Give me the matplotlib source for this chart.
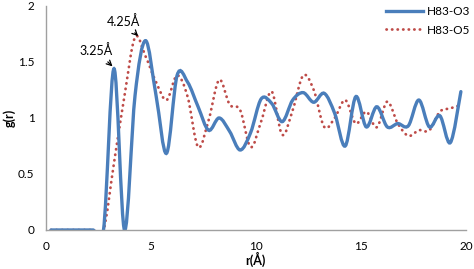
import numpy as np
import matplotlib
matplotlib.use("Agg")
import matplotlib.pyplot as plt
from matplotlib.path import Path
from matplotlib.patches import PathPatch
from matplotlib.lines import Line2D

# r values (Angstrom), sampled every 0.5 starting at 0.25
r = [0.25, 0.75, 1.25, 1.75, 2.25, 2.75, 3.25, 3.75, 4.25, 4.75,
     5.25, 5.75, 6.25, 6.75, 7.25, 7.75, 8.25, 8.75, 9.25, 9.75,
     10.25, 10.75, 11.25, 11.75, 12.25, 12.75, 13.25, 13.75, 14.25, 14.75,
     15.25, 15.75, 16.25, 16.75, 17.25, 17.75, 18.25, 18.75, 19.25, 19.75]

g_o3 = [0, 0, 0, 0, 0, 0, 1.44, 0, 1.2, 1.69,
        1.2, 0.685, 1.38, 1.32, 1.1, 0.89, 1.0, 0.88, 0.714, 0.87,
        1.17, 1.13, 0.967, 1.16, 1.226, 1.14, 1.22, 1.04, 0.75, 1.19,
        0.92, 1.1, 0.92, 0.95, 0.93, 1.16, 0.92, 1.02, 0.78, 1.235]

g_o5 = [0, 0, 0, 0, 0, 0, 0.6, 1.2, 1.72, 1.55,
        1.32, 1.16, 1.38, 1.19, 0.74, 0.98, 1.34, 1.12, 1.07, 0.74,
        0.97, 1.235, 0.85, 1.07, 1.38, 1.25, 0.92, 1.0, 1.16, 0.95,
        1.056, 0.917, 1.146, 0.95, 0.84, 0.89, 0.89, 1.056, 1.086, 1.116]

series_names = ["H83-O3", "H83-O5"]
blue = "#4a7ebb"
red = "#be4b48"


def smooth_path(x, y):
    # Excel-style smoothed line: cubic Bezier segments (Catmull-Rom tangents)
    p = np.column_stack([x, y]).astype(float)
    n = len(p)
    verts = [p[0]]
    codes = [Path.MOVETO]
    for i in range(n - 1):
        p0 = p[i - 1] if i > 0 else p[i]
        p3 = p[i + 2] if i + 2 < n else p[i + 1]
        c1 = p[i] + (p[i + 1] - p0) / 6
        c2 = p[i + 1] - (p3 - p[i]) / 6
        verts += [c1, c2, p[i + 1]]
        codes += [Path.CURVE4] * 3
    return Path(verts, codes)


plt.rcParams['font.family'] = ['Lato', 'DejaVu Sans']

fig = plt.figure(figsize=(4.74, 2.69), dpi=100)
ax = fig.add_axes([0.0964, 0.145, 0.887, 0.833])

ax.add_patch(PathPatch(smooth_path(r, g_o5), fill=False, edgecolor=red,
                       lw=2.0, linestyle=(0, (0.1, 1.9)), capstyle='round'))
ax.add_patch(PathPatch(smooth_path(r, g_o3), fill=False, edgecolor=blue,
                       lw=2.4, capstyle='round'))

ax.set_xlim(0, 20)
ax.set_ylim(0, 2)
ax.set_xticks([0, 5, 10, 15, 20])
ax.set_yticks([0, 0.5, 1, 1.5, 2])
ax.set_yticklabels(["0", "0.5", "1", "1.5", "2"])
ax.tick_params(length=0, labelsize=8.5, pad=8)
for s in ["top", "right"]:
    ax.spines[s].set_visible(False)
for s in ["left", "bottom"]:
    ax.spines[s].set_color("#a0a0a0")
    ax.spines[s].set_linewidth(1.0)

ax.set_xlabel("r(Å)", fontsize=9, fontweight='bold', labelpad=0)
ax.set_ylabel("g(r)", fontsize=9, fontweight='bold', labelpad=2)

ax.annotate("3.25Å", xy=(3.18, 1.46), xytext=(2.4, 1.6), fontsize=9,
            ha='center', va='center',
            arrowprops=dict(arrowstyle='->', color='black', lw=0.9,
                            shrinkA=2, shrinkB=0))
ax.annotate("4.25Å", xy=(4.4, 1.73), xytext=(3.7, 1.86), fontsize=9,
            ha='center', va='center',
            arrowprops=dict(arrowstyle='->', color='black', lw=0.9,
                            shrinkA=2, shrinkB=0))

handles = [Line2D([], [], color=blue, lw=2.4),
           Line2D([], [], color=red, lw=2.0, linestyle=(0, (0.1, 1.9)),
                  dash_capstyle='round')]
ax.legend(handles, series_names, loc='upper right', bbox_to_anchor=(1.035, 1.045),
          frameon=False, fontsize=8.5, handlelength=3.2, handletextpad=0.3,
          labelspacing=0.6)

fig.savefig("out.png", dpi=100)
